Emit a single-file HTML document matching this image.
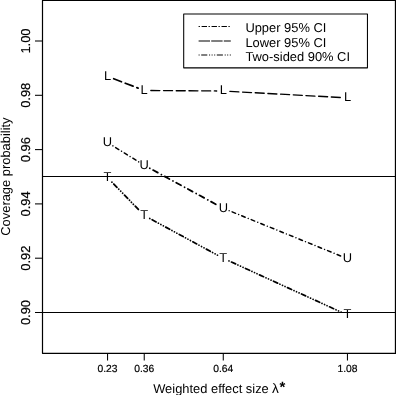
<!DOCTYPE html><html><head><meta charset="utf-8"><title>Coverage probability</title>
<style>html,body{margin:0;padding:0;background:#fff}svg{display:block}text{font-family:"Liberation Sans",sans-serif;fill:#000;text-rendering:geometricPrecision}</style></head><body>
<svg width="396" height="395" viewBox="0 0 396 395">
<rect width="396" height="395" fill="#fff"/>
<rect x="42.5" y="0.5" width="352.95" height="352.85" fill="none" stroke="#000" stroke-width="1.2" stroke-linejoin="round"/>
<line x1="35.0" y1="41.00" x2="42.5" y2="41.00" stroke="#000" stroke-width="1.05"/>
<text transform="translate(30.1,41.0) rotate(-90)" text-anchor="middle" font-size="12.9" stroke="#000" stroke-width="0.2">1.00</text>
<line x1="35.0" y1="95.30" x2="42.5" y2="95.30" stroke="#000" stroke-width="1.05"/>
<text transform="translate(30.1,95.3) rotate(-90)" text-anchor="middle" font-size="12.9" stroke="#000" stroke-width="0.2">0.98</text>
<line x1="35.0" y1="149.60" x2="42.5" y2="149.60" stroke="#000" stroke-width="1.05"/>
<text transform="translate(30.1,149.6) rotate(-90)" text-anchor="middle" font-size="12.9" stroke="#000" stroke-width="0.2">0.96</text>
<line x1="35.0" y1="203.90" x2="42.5" y2="203.90" stroke="#000" stroke-width="1.05"/>
<text transform="translate(30.1,203.9) rotate(-90)" text-anchor="middle" font-size="12.9" stroke="#000" stroke-width="0.2">0.94</text>
<line x1="35.0" y1="258.20" x2="42.5" y2="258.20" stroke="#000" stroke-width="1.05"/>
<text transform="translate(30.1,258.2) rotate(-90)" text-anchor="middle" font-size="12.9" stroke="#000" stroke-width="0.2">0.92</text>
<line x1="35.0" y1="312.50" x2="42.5" y2="312.50" stroke="#000" stroke-width="1.05"/>
<text transform="translate(30.1,312.5) rotate(-90)" text-anchor="middle" font-size="12.9" stroke="#000" stroke-width="0.2">0.90</text>
<line x1="107.55" y1="353.35" x2="107.55" y2="360.55" stroke="#000" stroke-width="1.05"/>
<text x="107.5" y="372.0" text-anchor="middle" font-size="10.3" stroke="#000" stroke-width="0.2">0.23</text>
<line x1="144.24" y1="353.35" x2="144.24" y2="360.55" stroke="#000" stroke-width="1.05"/>
<text x="144.2" y="372.0" text-anchor="middle" font-size="10.3" stroke="#000" stroke-width="0.2">0.36</text>
<line x1="223.27" y1="353.35" x2="223.27" y2="360.55" stroke="#000" stroke-width="1.05"/>
<text x="223.3" y="372.0" text-anchor="middle" font-size="10.3" stroke="#000" stroke-width="0.2">0.64</text>
<line x1="347.45" y1="353.35" x2="347.45" y2="360.55" stroke="#000" stroke-width="1.05"/>
<text x="347.5" y="372.0" text-anchor="middle" font-size="10.3" stroke="#000" stroke-width="0.2">1.08</text>
<line x1="42.5" y1="176.5" x2="395.45" y2="176.5" stroke="#000" stroke-width="1.05"/>
<line x1="42.5" y1="312.5" x2="395.45" y2="312.5" stroke="#000" stroke-width="1.05"/>
<text x="153.2" y="392.8" font-size="12.9">Weighted effect size <tspan x="272" font-size="13.6">λ</tspan><tspan x="279.6" y="391.8" font-size="15" font-weight="bold">*</tspan></text>
<text transform="translate(9.8,176.6) rotate(-90)" text-anchor="middle" font-size="12.9">Coverage probability</text>
<line x1="113.71" y1="78.77" x2="138.08" y2="88.13" stroke="#000" stroke-width="1.8" stroke-dasharray="8.3 4.1" stroke-linecap="round"/>
<line x1="150.84" y1="90.54" x2="216.67" y2="90.96" stroke="#000" stroke-width="1.35" stroke-dasharray="9.0 3.7" stroke-linecap="round"/>
<line x1="229.86" y1="91.37" x2="340.86" y2="97.53" stroke="#000" stroke-width="1.35" stroke-dasharray="9.0 3.7" stroke-linecap="round"/>
<text x="107.5" y="79.6" text-anchor="middle" font-size="12.9">L</text>
<text x="144.2" y="93.8" text-anchor="middle" font-size="12.9">L</text>
<text x="223.3" y="93.9" text-anchor="middle" font-size="12.9">L</text>
<text x="347.5" y="101.2" text-anchor="middle" font-size="12.9">L</text>
<line x1="112.91" y1="145.91" x2="138.88" y2="161.99" stroke="#000" stroke-width="1.5" stroke-dasharray="0.01 3.2 3.7 3.19" stroke-linecap="round"/>
<line x1="149.78" y1="168.31" x2="217.73" y2="205.29" stroke="#000" stroke-width="1.8" stroke-dasharray="0.01 3.7 5.4 4.09" stroke-linecap="round"/>
<line x1="229.11" y1="210.67" x2="341.62" y2="256.33" stroke="#000" stroke-width="1.5" stroke-dasharray="0.01 3.25 3.8 3.24" stroke-linecap="round"/>
<text x="107.5" y="146.3" text-anchor="middle" font-size="12.9">U</text>
<text x="144.2" y="169.0" text-anchor="middle" font-size="12.9">U</text>
<text x="223.3" y="212.0" text-anchor="middle" font-size="12.9">U</text>
<text x="347.5" y="262.4" text-anchor="middle" font-size="12.9">U</text>
<line x1="111.93" y1="182.13" x2="139.86" y2="210.97" stroke="#000" stroke-width="1.8" stroke-dasharray="0.01 2.7 4.5 2.6 0.01 2.8 0.01 2.77" stroke-linecap="round"/>
<line x1="149.78" y1="218.50" x2="217.73" y2="255.30" stroke="#000" stroke-width="1.75" stroke-dasharray="0.01 2.7 4.5 2.6 0.01 2.8 0.01 2.77" stroke-linecap="round"/>
<line x1="229.00" y1="260.92" x2="341.72" y2="312.38" stroke="#000" stroke-width="1.75" stroke-dasharray="0.01 2.7 4.5 2.6 0.01 2.8 0.01 2.77" stroke-linecap="round"/>
<text x="107.5" y="180.9" text-anchor="middle" font-size="12.9">T</text>
<text x="144.2" y="218.8" text-anchor="middle" font-size="12.9">T</text>
<text x="223.3" y="261.6" text-anchor="middle" font-size="12.9">T</text>
<text x="347.5" y="318.3" text-anchor="middle" font-size="12.9">T</text>
<rect x="183.7" y="13.95" width="183.75" height="53.9" fill="#fff" stroke="#000" stroke-width="1.05" stroke-linejoin="round"/>
<line x1="198.6" y1="26.5" x2="230.8" y2="26.5" stroke="#000" stroke-width="1.1" stroke-dasharray="1.3 1.7 5.4 1.55" stroke-linecap="butt"/>
<text x="245.4" y="32.4" font-size="12.9">Upper 95% CI</text>
<line x1="198.6" y1="41.0" x2="230.8" y2="41.0" stroke="#000" stroke-width="1.1" stroke-dasharray="11.4 1.2" stroke-linecap="butt"/>
<text x="245.4" y="46.5" font-size="12.9">Lower 95% CI</text>
<line x1="198.6" y1="55.0" x2="230.8" y2="55.0" stroke="#000" stroke-width="1.1" stroke-dasharray="1 1.6 6.1 1.8 1 1.5 1 1.6" stroke-linecap="butt"/>
<text x="245.4" y="60.5" font-size="12.9">Two-sided 90% CI</text>
</svg></body></html>
